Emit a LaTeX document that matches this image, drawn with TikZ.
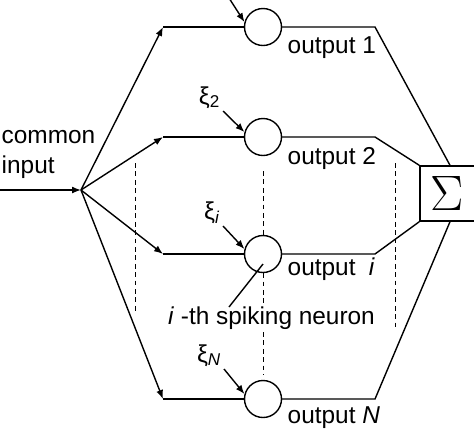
\documentclass[tikz,border=0pt]{standalone}
\usepackage{fontspec}
\setmainfont{Liberation Sans}
\usetikzlibrary{arrows.meta}
\tikzset{
  neuron/.style={draw, circle, fill=white, minimum size=18.5pt, inner sep=0pt},
  outlabel/.style={anchor=base west, inner sep=0pt},
  noise/.style={anchor=south east, inner sep=1pt},
  guide/.style={dash pattern=on 2.4pt off 1.8pt, line width=0.5pt},
}
\begin{document}
\begin{tikzpicture}[x=0.5pt, y=-0.5pt, >={Latex[length=4.5pt,width=3.5pt]}, line width=0.7pt, font=\fontsize{12.2}{15}\selectfont]
\useasboundingbox (0,0) rectangle (474,430);
\coordinate (in) at (0,190);
\coordinate (fork) at (81,190);
\coordinate (b1) at (163,27);
\coordinate (b2) at (163,137);
\coordinate (bi) at (163,254);
\coordinate (bN) at (163,399);
\coordinate (r1) at (375,27);
\coordinate (r2) at (375,137);
\coordinate (ri) at (375,254);
\coordinate (rN) at (375,399);
\coordinate (t1) at (229,-2);
\coordinate (ptr) at (229,307);
\node[align=left, anchor=base west, inner sep=0pt] (common) at (1,173) {common\\input};
\node[draw, minimum width=30pt, minimum height=27.5pt, inner sep=0pt, font=\fontsize{24}{24}\selectfont] (sum) at (450,193.5) {\hspace*{-2.5pt}$\Sigma$};
\draw[guide] (135,163) -- (135,314);
\draw[guide] (395,163) -- (395,327);
\node[neuron] (n1) at (263,27) {};
\node[neuron] (n2) at (263,137) {};
\node[neuron] (ni) at (263,254) {};
\node[neuron] (nN) at (263,399) {};
\draw[guide] (263,171) -- (ni.north);
\draw[guide] (ni.south) -- (263,375);
\node[fill=white, inner sep=1pt, anchor=base] (spk) at (271.5,324) {\textit{i} -th spiking neuron};
\node[noise] (x2) at (223,111) {ξ\textsubscript{2}};
\node[noise] (xi) at (223,226) {ξ\textsubscript{\textit{i}}};
\node[noise] (xN) at (224,369) {ξ\textsubscript{\textit{N}}};
\node[outlabel] (o1) at (287,53) {output 1};
\node[outlabel] (o2) at (287,164) {output 2};
\node[outlabel] (oi) at (287,275) {output\hspace{0.55em}\textit{i}};
\node[outlabel] (oN) at (287,423) {output \textit{N}};
\draw[->] (in) -- (fork);
\draw[->] (fork) -- (b1);
\draw[->] (fork) -- (b2);
\draw[->] (fork) -- (bi);
\draw[->] (fork) -- (bN);
\draw (b1) -- (n1);
\draw (b2) -- (n2);
\draw (bi) -- (ni);
\draw (bN) -- (nN);
\draw (n1) -- (r1) -- (sum.north);
\draw (n2) -- (r2) -- (sum.north west);
\draw (ni) -- (ri) -- (sum.south west);
\draw (nN) -- (rN) -- (sum.south);
\draw[->] (t1) -- (n1.165);
\draw[->] (x2.south east) -- (n2.165);
\draw[->] (xi.south east) -- (ni.165);
\draw[->] (xN.south east) -- (nN.165);
\draw (ptr) -- ([shift={(0,10)}]ni.center);
\end{tikzpicture}
\end{document}
